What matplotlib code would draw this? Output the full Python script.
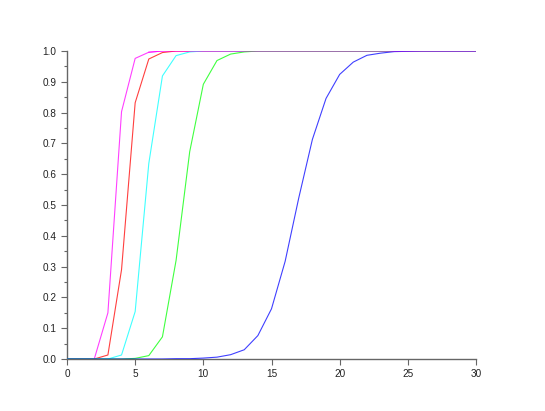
import matplotlib
matplotlib.use("Agg")
import matplotlib.pyplot as plt
from matplotlib.ticker import MultipleLocator

x = list(range(0, 31))
blue = [0, 0, 0, 0, 0, 0, 0, 0, 0.001, 0.001, 0.003, 0.006, 0.014, 0.030, 0.076, 0.163,
        0.317, 0.523, 0.713, 0.846, 0.924, 0.964, 0.986, 0.993, 0.998, 0.999] + [1.0] * 5
green = [0, 0, 0, 0, 0, 0.002, 0.011, 0.072, 0.32, 0.673, 0.892, 0.969, 0.99, 0.997] + [1.0] * 17
cyan = [0, 0, 0, 0, 0.013, 0.154, 0.635, 0.919, 0.985, 0.997] + [1.0] * 21
red = [0, 0, 0, 0.013, 0.29, 0.832, 0.974, 0.995] + [1.0] * 23
magenta = [0, 0, 0, 0.15, 0.803, 0.976, 0.996] + [1.0] * 24

series = [(magenta, "#ff00ff"), (red, "#ff0000"), (cyan, "#00ffff"), (green, "#00ff00"), (blue, "#0000ff")]

fig = plt.figure(figsize=(5.45, 4.11), dpi=100)
ax = fig.add_axes([67 / 545, 1 - 359 / 411, (476 - 67) / 545, (359 - 51) / 411])
for ys, c in series:
    ax.plot(x, ys, color=c, lw=0.8, alpha=0.75, zorder=2)
# magenta on top along y=1 as in the reference
ax.plot(x[6:], magenta[6:], color="#ff00ff", lw=0.8, alpha=0.75, zorder=2.1)

ax.set_xlim(0, 30)
ax.set_ylim(0, 1)
ax.xaxis.set_major_locator(MultipleLocator(5))
ax.yaxis.set_major_locator(MultipleLocator(0.1))
ax.yaxis.set_minor_locator(MultipleLocator(0.05))
ax.yaxis.set_major_formatter(matplotlib.ticker.FormatStrFormatter("%.1f"))
for s in ["top", "right"]:
    ax.spines[s].set_visible(False)
for s in ["left", "bottom"]:
    ax.spines[s].set_color("#666666")
    ax.spines[s].set_linewidth(1.0)
    ax.spines[s].set_zorder(1)
ax.tick_params(which="major", length=4.5, width=0.8, color="#666666", labelsize=7.2,
               labelcolor="#222222", direction="out", pad=3)
ax.tick_params(which="minor", length=2.5, width=0.8, color="#666666", direction="out")
for lab in ax.get_xticklabels() + ax.get_yticklabels():
    lab.set_fontfamily("Liberation Sans")

fig.savefig("out.png", dpi=100)
